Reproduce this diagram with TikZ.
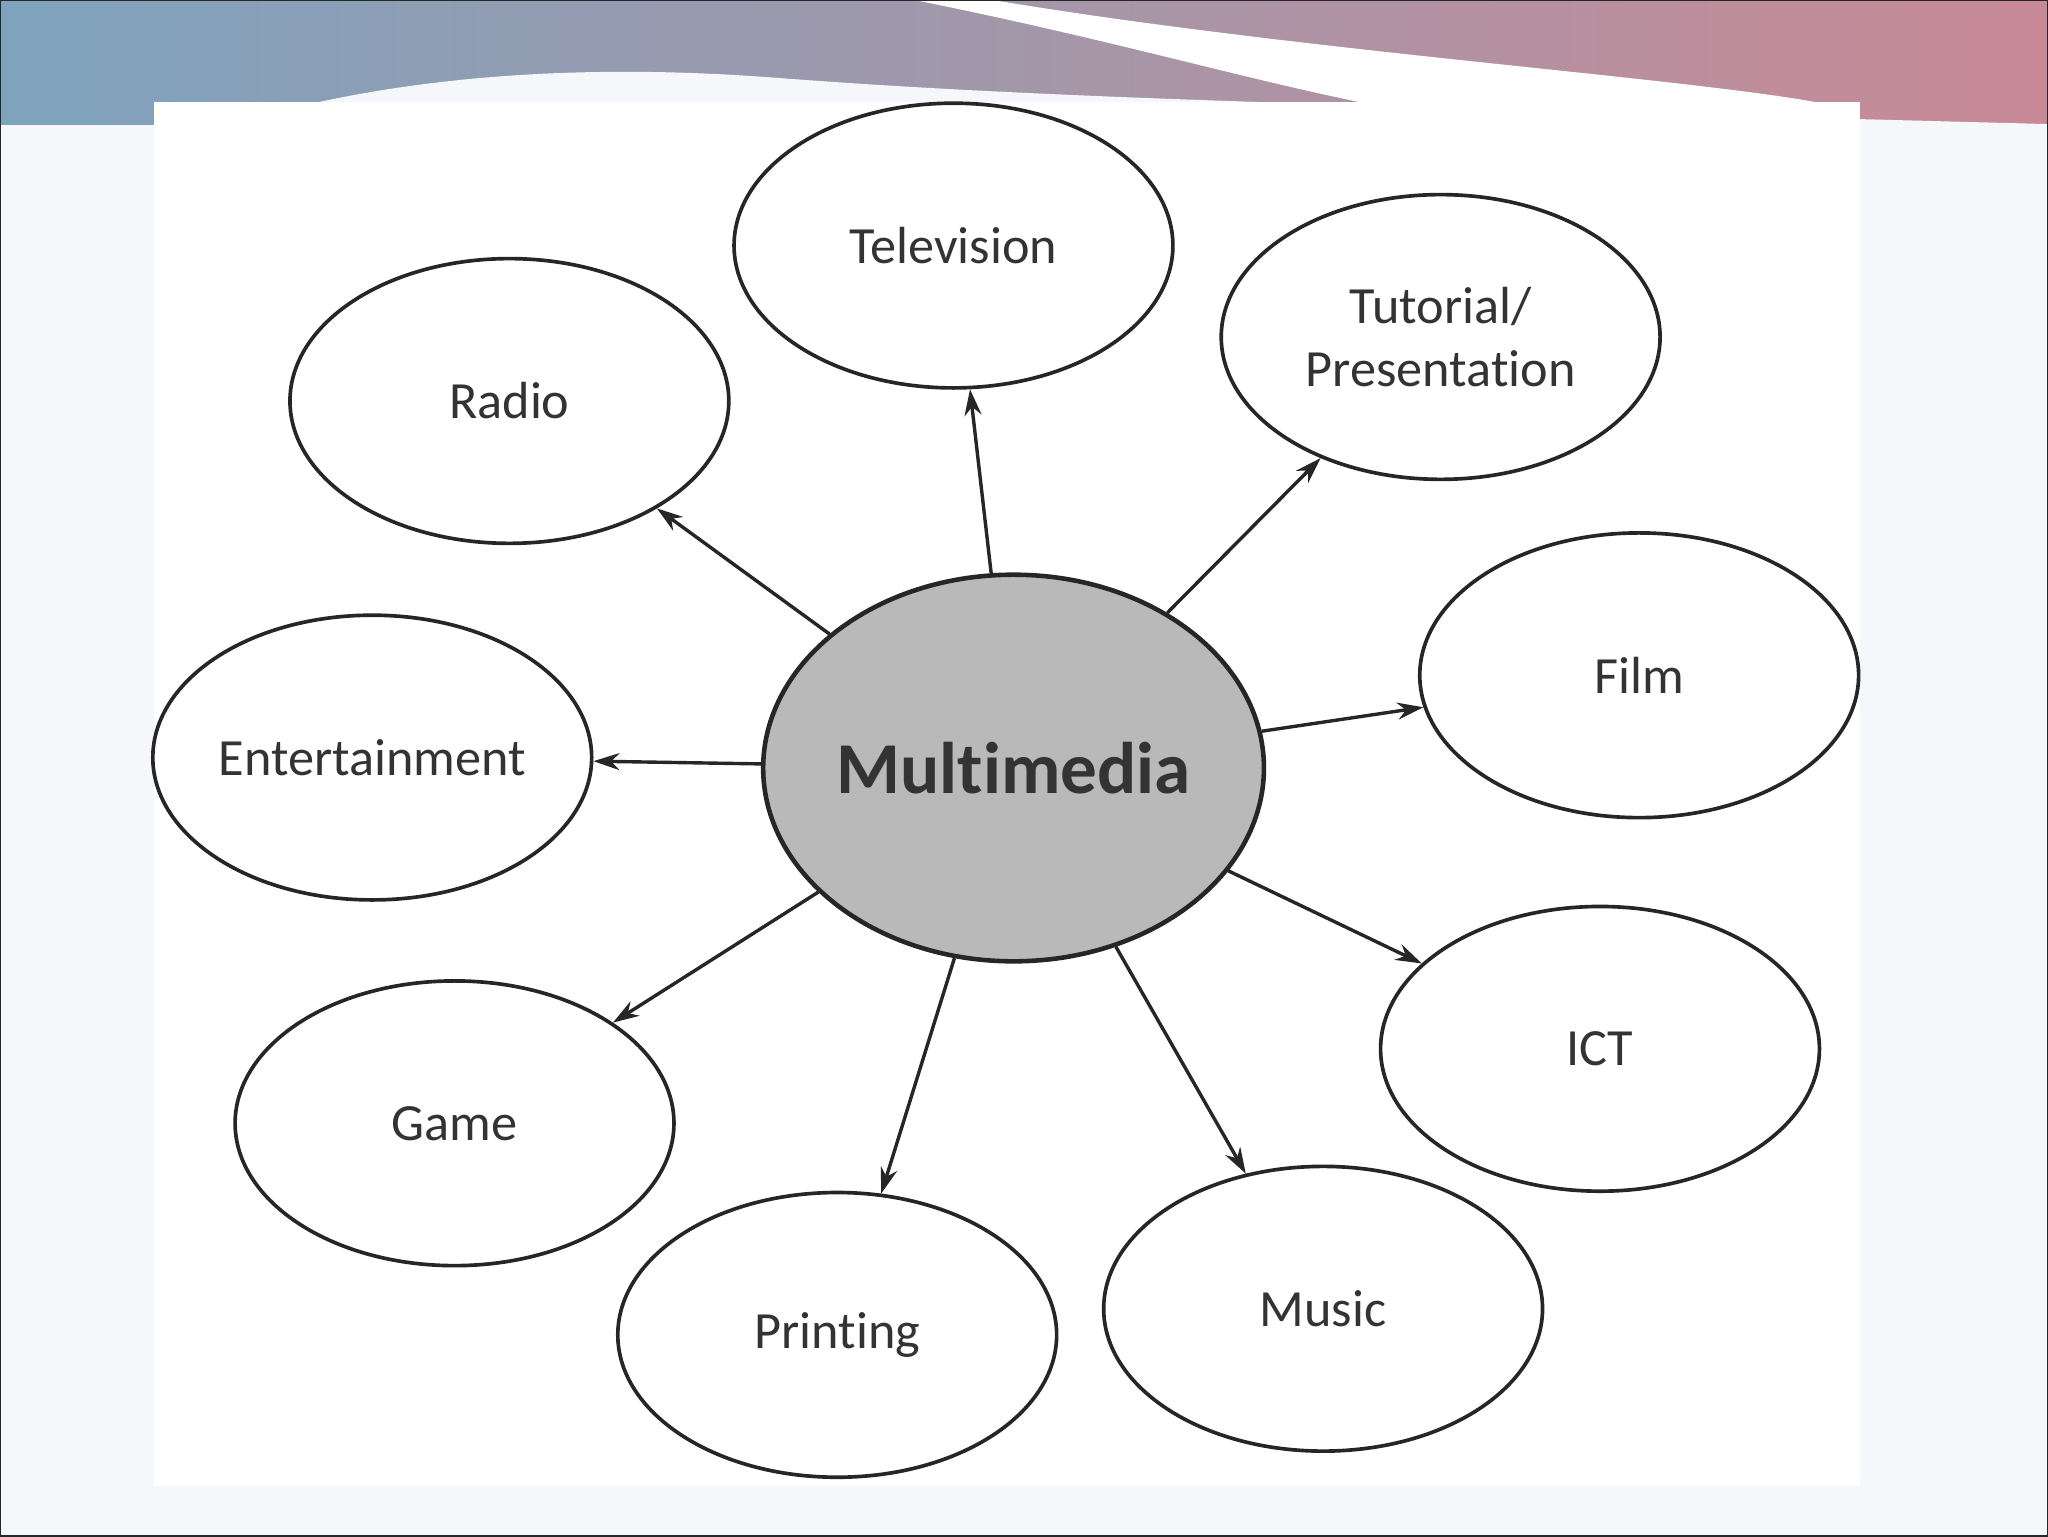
\documentclass[tikz,border=0pt]{standalone}
\usepackage{fontspec}
\setmainfont[Ligatures={NoCommon}]{Carlito}
\usetikzlibrary{shapes.geometric,arrows.meta}
\definecolor{bandL}{HTML}{7EA3BD}
\definecolor{bandR}{HTML}{C98A96}
\definecolor{slide}{HTML}{F6F7FA}
\begin{document}
\begin{tikzpicture}[x=1pt,y=-1pt,
  bub/.style={ellipse,draw=black!85,line width=2.8pt,minimum width=336pt,minimum height=218pt,inner sep=0pt,font=\fontsize{40}{48}\selectfont,text=black!80,align=center},
  arr/.style={-{Stealth[length=20pt,width=13pt]},line width=2.6pt,black!85}]
\useasboundingbox (0,0) rectangle (1568,1176);
\fill[slide] (0,0) rectangle (1568,1176);
\shade[left color=bandL, right color=bandR] (0,0) rectangle (1568,95);
\fill[slide] (0,175) .. controls (150,80) and (350,40) .. (600,60) .. controls (800,75) and (1000,80) .. (1568,95) -- (1568,1176) -- (0,1176) -- cycle;
\fill[white] (700,0) .. controls (850,30) and (950,60) .. (1050,80) -- (1400,80) .. controls (1300,60) and (1000,40) .. (760,0) -- cycle;
\fill[white] (118,78) rectangle (1424,1138);
\draw[black!85,line width=1.5pt] (0,0) rectangle (1568,1176);
\node[bub,fill=gray!55,line width=3.5pt,minimum width=370pt,minimum height=296pt,font=\bfseries\fontsize{56}{60}\selectfont] (m) at (776,588) {Multimedia};
\node[bub] (tv) at (730,188) {Television};
\node[bub] (ra) at (390,307) {Radio};
\node[bub] (tu) at (1103,258) {Tutorial/\\Presentation};
\node[bub] (fi) at (1255,517) {Film};
\node[bub] (en) at (285,580) {Entertainment};
\node[bub] (ic) at (1225,803) {ICT};
\node[bub] (ga) at (348,860) {Game};
\node[bub] (pr) at (641,1022) {Printing};
\node[bub] (mu) at (1013,1002) {Music};
\foreach \t in {tv,ra,tu,fi,en,ic,ga,pr,mu} \draw[arr] (m) -- (\t);
\end{tikzpicture}
\end{document}
